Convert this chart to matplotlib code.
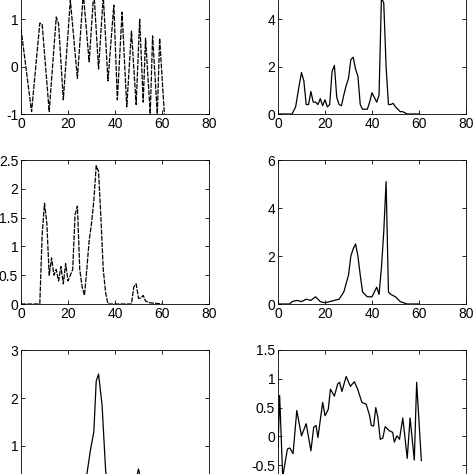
import matplotlib
matplotlib.use("Agg")
import matplotlib.pyplot as plt

plt.rcParams['font.family'] = ['Liberation Sans', 'DejaVu Sans']

# top-left
x1 = [0,4.5,8,9,12,15,16,18,21,24,26.5,29,31,33,35,37,39.5,41,43,45,47,49,50.5,52,53,55,56,58,59,61]
y1 = [0.8,-0.95,0.92,0.9,-0.95,1.05,0.9,-0.7,1.4,-0.25,1.55,0.1,1.6,-0.05,1.5,-0.3,1.3,-0.7,1.15,-0.85,0.75,-0.8,1.0,-0.75,0.6,-1.0,0.65,-1.0,0.6,-1.0]
# top-right
x2 = [0,6,7.5,9,10,11,12,13,14,15,16,17,18,19,20,21,22,23,24,25,26,27,28,29,30,31,32,33,34,35,36,38,39,40,41,42,43,44,45,46,47,48,49,50,52,53,55,60]
y2 = [0,0,0.3,1.2,1.75,1.4,0.4,0.4,0.95,0.5,0.5,0.4,0.65,0.35,0.6,0.3,0.4,1.8,2.05,0.7,0.4,0.35,0.8,1.2,1.5,2.3,2.4,1.9,1.6,0.4,0.2,0.2,0.5,0.9,0.7,0.5,0.8,4.9,4.7,2.0,0.4,0.4,0.45,0.3,0.1,0.1,0.0,0.0]
# middle-left
x3 = [0,8,9,10,11,12,13,14,15,16,17,18,19,20,21,22,23,24,25,26,27,28,29,30,31,32,33,34,35,36,37,47,48,49,50,51,52,53,55,60]
y3 = [0,0,1.2,1.75,1.4,0.5,0.8,0.5,0.6,0.4,0.65,0.35,0.7,0.4,0.5,0.6,1.55,1.7,0.6,0.3,0.15,0.6,1.1,1.4,1.8,2.4,2.3,1.5,0.6,0.2,0.0,0.0,0.3,0.35,0.1,0.1,0.15,0.05,0.02,0.0]
# middle-right
x4 = [0,5,6,8,10,12,14,16,18,20,22,24,26,28,30,31,32,33,34,35,36,38,40,41,42,43,44,45,46,47,48,50,52,55,60]
y4 = [0,0,0.1,0.15,0.1,0.2,0.15,0.3,0.1,0.05,0.1,0.15,0.2,0.5,1.2,2.0,2.3,2.5,2.0,1.2,0.5,0.3,0.3,0.5,0.7,0.4,1.5,3.0,5.1,0.5,0.4,0.3,0.1,0.0,0.0]
# bottom-left
x5 = [0,20,24,26,28,29.5,31,32,33,34.5,36,37,40,45,48,49,50,51,52,55,60]
y5 = [0,0,0.05,0.15,0.4,0.9,1.3,2.35,2.5,1.85,0.5,0.1,0.05,0.05,0.1,0.3,0.52,0.3,0.1,0.05,0.0]
# bottom-right
x6 = [0,0.7,2,4,5,6.4,8,10,12,14,15.2,16.2,17,19,20,21.4,22.3,24,25.4,26.2,27.2,29,30.8,32.5,33.9,35.7,37.5,39,39.7,40.7,41.6,42.5,43.5,44.6,45.6,47.3,48.8,49.5,50.6,51.7,53.1,55,56.2,58,59,61]
y6 = [-0.2,0.71,-0.7,-0.22,-0.2,-0.3,0.45,0.01,0.22,-0.25,0.16,0.19,-0.02,0.59,0.36,0.47,0.82,0.7,0.91,0.94,0.78,1.04,0.87,0.95,0.82,0.59,0.56,0.36,0.19,0.18,0.5,0.33,-0.05,-0.03,0.17,0.1,0.07,-0.1,0.01,-0.05,0.32,-0.38,0.32,-0.41,0.94,-0.42]

W = H = 474
fig = plt.figure(figsize=(4.74, 4.74), dpi=100)

def ax_px(x0, x1p, ytop, ybot):
    return fig.add_axes([x0 / W, 1 - ybot / H, (x1p - x0) / W, (ybot - ytop) / H])

panels = [
    ((21, 209, -28, 114), x1, y1, (-1, 2), [-1, 0, 1, 2], ['-1', '0', '1', '2'], (0, (4, 1))),
    ((278, 466, -28, 114), x2, y2, (0, 6), [0, 2, 4, 6], ['0', '2', '4', '6'], '-'),
    ((21, 209, 160, 304), x3, y3, (0, 2.5), [0, 0.5, 1, 1.5, 2, 2.5], ['0', '0.5', '1', '1.5', '2', '2.5'], (0, (4, 1))),
    ((278, 466, 160, 304), x4, y4, (0, 6), [0, 2, 4, 6], ['0', '2', '4', '6'], '-'),
    ((21, 209, 350, 494), x5, y5, (0, 3), [0, 1, 2, 3], ['0', '1', '2', '3'], '-'),
    ((278, 466, 350, 494), x6, y6, (-1, 1.5), [-1, -0.5, 0, 0.5, 1, 1.5], ['-1', '-0.5', '0', '0.5', '1', '1.5'], '-'),
]
for (a, b, c, d), xs, ys, yl, yt, ytl, ls in panels:
    ax = ax_px(a, b, c, d)
    ax.plot(xs, ys, color='black', lw=0.9, linestyle=ls)
    ax.set_xlim(0, 80)
    ax.set_ylim(*yl)
    ax.set_xticks([0, 20, 40, 60, 80])
    ax.set_yticks(yt)
    ax.set_yticklabels(ytl)
    ax.tick_params(direction='in', top=True, right=True, labelsize=10, length=3, width=0.6, pad=2)
    for s in ax.spines.values():
        s.set_linewidth(0.6)

fig.savefig('out.png', dpi=100)
